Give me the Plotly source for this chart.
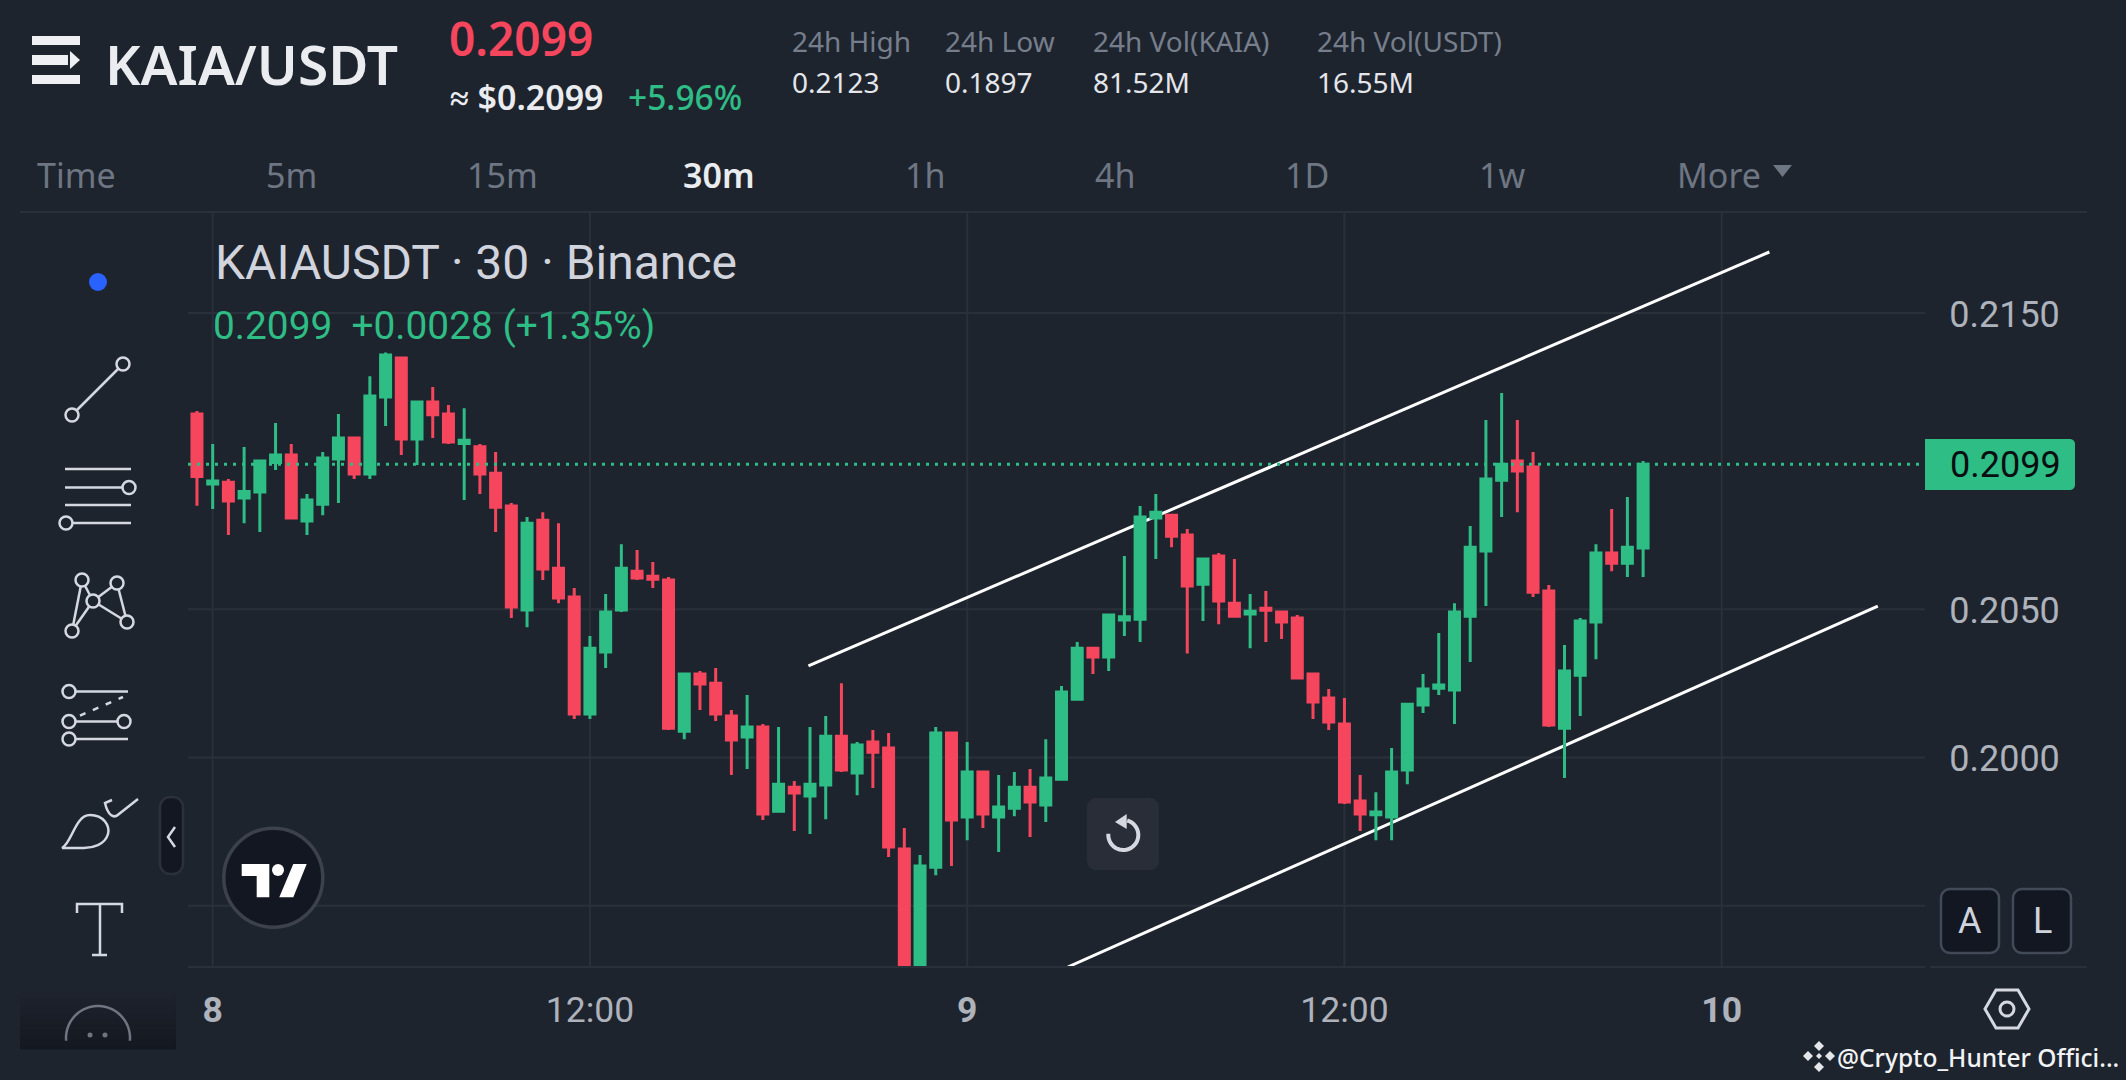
import numpy as np
import pandas as pd
import plotly.graph_objects as go

W, H = 2126, 1080
BG = "#1e242e"
GRID = "#2a303a"
GREEN = "#2ebd85"
RED = "#f6465d"
ICON = "#d5d8e0"
PANEL = "#131722"

times = pd.date_range("2024-10-07 23:30", periods=93, freq="30min")
opens = [
    .21159, .20923, .20929, .20876, .20896, .20996, .21021, .20798, .20855, .21007, .21078, .20957,
    .21217, .21348, .21075, .21200, .21159, .21060, .21049, .20959, .20849, .20498, .20801, .20639,
    .20542, .20147, .20356, .20498, .20629, .20612, .20599, .20089, .20282, .20251, .20140, .20069,
    .20103, .19819, .19900, .19870, .19907, .20072, .19948, .20052, .20032, .19691, .19200, .19630,
    .20083, .19799, .19951, .19799, .19829, .19900, .19840, .19927, .20197, .20369, .20339, .20464,
    .20467, .20808, .20818, .20751, .20585, .20680, .20521, .20484, .20504, .20491, .20471, .20282,
    .20201, .20113, .19853, .19807, .19799, .19958, .20177, .20234, .20228, .20477, .20697, .20936,
    .21001, .20980, .20562, .20099, .20278, .20457, .20690, .20656, .20707,
]
highs = [
    .21169, .21058, .20940, .21048, .21001, .21129, .21058, .20889, .21031, .21159, .21078, .21287,
    .21367, .21348, .21200, .21250, .21190, .21179, .21058, .21031, .20859, .20812, .20828, .20791,
    .20572, .20410, .20552, .20720, .20700, .20660, .20609, .20282, .20292, .20302, .20160, .20211,
    .20113, .20103, .19921, .20103, .20140, .20251, .20052, .20093, .20083, .19762, .19671, .20103,
    .20083, .20052, .19951, .19941, .19951, .19961, .20062, .20241, .20390, .20369, .20481, .20680,
    .20849, .20889, .20818, .20771, .20670, .20690, .20670, .20552, .20562, .20491, .20481, .20282,
    .20231, .20201, .19941, .19883, .20032, .20180, .20282, .20420, .20521, .20781, .21139, .21230,
    .21139, .21031, .20582, .20380, .20471, .20720, .20839, .20879, .21001,
]
lows = [
    .20850, .20839, .20751, .20791, .20761, .20970, .20808, .20751, .20818, .20859, .20940, .20940,
    .21119, .21021, .20987, .21078, .21058, .20869, .20889, .20761, .20471, .20440, .20599, .20521,
    .20130, .20130, .20302, .20491, .20599, .20572, .20093, .20062, .20160, .20123, .19941, .19961,
    .19789, .19819, .19752, .19742, .19792, .19951, .19873, .19897, .19664, .19180, .19150, .19603,
    .19634, .19721, .19762, .19681, .19802, .19732, .19782, .19927, .20197, .20282, .20292, .20410,
    .20390, .20670, .20710, .20351, .20461, .20450, .20477, .20369, .20390, .20400, .20268, .20130,
    .20093, .19843, .19752, .19721, .19721, .19910, .20150, .20211, .20113, .20322, .20511, .20812,
    .20828, .20542, .20103, .19931, .20140, .20332, .20629, .20609, .20609,
]
closes = [
    .20948, .20933, .20866, .20898, .21001, .21021, .20808, .20869, .21011, .21078, .20957, .21220,
    .21358, .21075, .21200, .21157, .21065, .21071, .20957, .20845, .20508, .20791, .20636, .20538,
    .20147, .20369, .20491, .20639, .20606, .20602, .20099, .20282, .20248, .20147, .20059, .20103,
    .19809, .19910, .19880, .19910, .20072, .19958, .20042, .20018, .19698, .19230, .19634, .20083,
    .19789, .19951, .19809, .19833, .19900, .19850, .19931, .20221, .20369, .20339, .20481, .20475,
    .20812, .20828, .20747, .20579, .20670, .20528, .20477, .20494, .20497, .20457, .20268, .20187,
    .20120, .19850, .19809, .19816, .19951, .20180, .20231, .20245, .20491, .20710, .20940, .20990,
    .20967, .20558, .20110, .20292, .20461, .20690, .20656, .20710, .20990,
]
last_price = 0.2099

price_ticks = [0.215, 0.205, 0.2, 0.195]
price_labels = ["0.2150", "0.2050", "0.2000", ""]
time_ticks = ["2024-10-08 00:00", "2024-10-08 12:00", "2024-10-09 00:00", "2024-10-09 12:00", "2024-10-10 00:00"]
time_labels = ["<b>8</b>", "12:00", "<b>9</b>", "12:00", "<b>10</b>"]

upper_x = ["2024-10-08 18:57", "2024-10-10 01:31"]
upper_y = [0.20309, 0.21706]
lower_x = ["2024-10-09 03:12", "2024-10-10 04:58"]
lower_y = [0.19293, 0.20511]

stat_names = ["24h High", "24h Low", "24h Vol(KAIA)", "24h Vol(USDT)"]
stat_values = ["0.2123", "0.1897", "81.52M", "16.55M"]
intervals = ["5m", "15m", "30m", "1h", "4h", "1D", "1w"]

shapes = []
notes = []


def X(px):
    return px / W


def Y(py):
    return 1 - py / H


def path_of(points, closed=False):
    s = "M " + " L ".join(f"{X(a):.5f},{Y(b):.5f}" for a, b in points)
    return s + " Z" if closed else s


def poly(points, fill=None, line=None, width=0, closed=True, dash=None):
    shapes.append(dict(type="path", xref="paper", yref="paper", path=path_of(points, closed),
                       fillcolor=fill if fill else "rgba(0,0,0,0)",
                       line=dict(color=line if line else "rgba(0,0,0,0)", width=width, dash=dash)))


def seg(x0, y0, x1, y1, color=ICON, width=2.5, dash=None, layer="above"):
    shapes.append(dict(type="line", xref="paper", yref="paper", x0=X(x0), y0=Y(y0), x1=X(x1), y1=Y(y1),
                       line=dict(color=color, width=width, dash=dash), layer=layer))


def ring(cx, cy, r, fill=BG, color=ICON, width=2.5):
    shapes.append(dict(type="circle", xref="paper", yref="paper", x0=X(cx - r), x1=X(cx + r),
                       y0=Y(cy - r), y1=Y(cy + r), fillcolor=fill,
                       line=dict(color=color, width=width)))


def box(x0, y0, x1, y1, fill, line=None, width=0, r=0):
    # rounded rectangle, corners as short polylines
    if r == 0:
        pts = [(x0, y0), (x1, y0), (x1, y1), (x0, y1)]
    else:
        pts = []
        for cx, cy, a in [(x1 - r, y0 + r, -90), (x1 - r, y1 - r, 0), (x0 + r, y1 - r, 90), (x0 + r, y0 + r, 180)]:
            for t in np.radians(np.linspace(a, a + 90, 6)):
                pts.append((cx + r * np.cos(t), cy + r * np.sin(t)))
    poly(pts, fill=fill, line=line, width=width)


def arc(cx, cy, r, a0, a1, n=40):
    t = np.radians(np.linspace(a0, a1, n))
    return [(cx + r * np.cos(v), cy + r * np.sin(v)) for v in t]


def txt(x, y, s, size, color, family="Noto Sans", anchor="left", weight=400):
    notes.append(dict(xref="paper", yref="paper", x=X(x), y=Y(y), text=s, showarrow=False,
                      xanchor=anchor, yanchor="middle", borderpad=0,
                      font=dict(family=family, size=size, color=color, weight=weight)))


# header
for top, bottom in [(36, 45), (75, 84)]:
    box(32, top, 80, bottom, "#eef0f3")
box(32, 55, 68, 65, "#eef0f3")
poly([(70, 51), (80, 60), (70, 69)], fill="#eef0f3")
txt(104, 64, "KAIA/USDT", 55, "#eaecef", weight=600)
txt(448, 38, "0.2099", 46, RED, weight=600)
txt(449, 97, "≈ $0.2099", 34, "#eaecef", weight=600)
txt(627, 97, "+5.96%", 33.5, GREEN, weight=500)
for px, name, val in zip([791, 944, 1092, 1316], stat_names, stat_values):
    txt(px, 41, name, 28, "#767e8c")
    txt(px, 82, val, 28, "#e4e6ea")

# interval row
txt(36, 175, "Time", 34, "#6e7683")
for px, name in zip([291, 502, 719, 925, 1115, 1307, 1502], intervals):
    on = name == "30m"
    txt(px, 175, name, 34, "#eaecef" if on else "#6e7683", anchor="center", weight=600 if on else 400)
txt(1676, 175, "More", 34, "#6e7683")
poly([(1773, 165), (1792, 165), (1782.5, 177)], fill="#6e7683")
seg(20, 212, 2087, 212, GRID, 2)
seg(188, 967, 1925, 967, GRID, 2)
seg(1930, 967, 2087, 967, GRID, 2)

# chart legend
txt(214, 262, "KAIAUSDT · 30 · Binance", 48, "#d1d4dc", "Roboto")
txt(212, 326, "0.2099  +0.0028 (+1.35%)", 38.8, GREEN, "Roboto")

# drawing toolbar
ring(98, 282, 9, fill="#2962ff", color="#2962ff", width=0)
seg(72, 415, 123, 364)
ring(72, 415, 6.5)
ring(123, 364, 6.5)
seg(65, 469, 131, 469)
seg(65, 487.5, 124, 487.5)
seg(65, 505, 131, 505)
seg(72, 523, 131, 523)
ring(129, 487.5, 6.5)
ring(66, 523, 6.5)
for a, b in [((72, 631), (82, 580)), ((82, 580), (93, 601)), ((72, 631), (93, 601)),
             ((93, 601), (117, 583)), ((117, 583), (127, 622)), ((93, 601), (127, 622))]:
    seg(a[0], a[1], b[0], b[1])
for a, b in [(82, 580), (117, 583), (93, 601), (72, 631), (127, 622)]:
    ring(a, b, 6.5)
seg(69, 691.5, 128, 691.5)
seg(69, 721.5, 124, 721.5)
seg(69, 739, 128, 739)
seg(80, 715.6, 123, 697, dash="6px,8px")
for a, b in [(69, 691.5), (69, 721.5), (124, 721.5), (69, 739)]:
    ring(a, b, 6.5)
shapes.append(dict(type="path", xref="paper", yref="paper", line=dict(color=ICON, width=2.5),
                   path=f"M {X(62)},{Y(848)} C {X(72)},{Y(843)} {X(75)},{Y(815)} {X(90)},{Y(815)} "
                        f"C {X(104)},{Y(815)} {X(110)},{Y(826)} {X(108)},{Y(834)} "
                        f"C {X(105)},{Y(845)} {X(92)},{Y(848)} {X(84)},{Y(848)} Z"))
shapes.append(dict(type="path", xref="paper", yref="paper", line=dict(color=ICON, width=2.5),
                   path=f"M {X(138)},{Y(799)} L {X(119)},{Y(814)} C {X(114)},{Y(819)} {X(108)},{Y(816)} "
                        f"{X(105)},{Y(803)} L {X(112)},{Y(800)}"))
poly([(77, 913), (77, 904), (122, 904), (122, 913)], line=ICON, width=2.5, closed=False)
seg(100, 904, 100, 955)
seg(92, 955, 107, 955)
box(160, 797, 183, 874, PANEL, line="#2b3039", width=2.5, r=10)
poly([(175, 827), (168, 837), (175, 847)], line=ICON, width=2.5, closed=False)
for i in range(12):
    k = i / 11
    c = [int(30 + (20 - 30) * k), int(36 + (24 - 36) * k), int(46 + (33 - 46) * k)]
    box(20, 987 + i * 5.2, 176, 987 + (i + 1) * 5.2, f"rgb({c[0]},{c[1]},{c[2]})")
poly(arc(98, 1038, 32, 175, 365), line="#6f7480", width=2.5, closed=False)
ring(90, 1035, 2.5, fill="#6f7480", color="#6f7480", width=0)
ring(105, 1035, 2.5, fill="#6f7480", color="#6f7480", width=0)

# TradingView badge
ring(273.3, 877.7, 49.5, fill=PANEL, color="#3c414c", width=3.5)
poly([(241.7, 864), (269.3, 864), (269.3, 897.3), (256.7, 897.3), (256.7, 876), (241.7, 876)], fill="#ffffff")
ring(278, 870, 6, fill="#ffffff", color="#ffffff", width=0)
poly([(293.3, 864), (306.7, 864), (293.3, 897.3), (279.3, 897.3)], fill="#ffffff")

# reset button
box(1087, 798, 1159, 870, "#292d38", r=9)
poly(arc(1123.3, 835, 15, -75, 185), line=ICON, width=4, closed=False)
poly([(1115, 822), (1126.7, 814), (1126.7, 829)], fill=ICON)

# price scale bits
box(1925, 439, 2075, 490, GREEN, r=5)
box(1925, 439, 1940, 490, GREEN)
txt(1949, 465, "0.2099", 36, "#0b0e11", "Roboto")
for px, name in [(1941, "A"), (2013, "L")]:
    box(px, 889, px + 58, 953, PANEL, line="#434a57", width=2.5, r=9)
    txt(px + 29, 921, name, 36, "#cfd3dc", "Roboto", anchor="center")
hex_pts = [(1985, 1009), (1996, 990), (2018, 990), (2029, 1009), (2018, 1028), (1996, 1028)]
poly(hex_pts, line=ICON, width=3)
ring(2007, 1009, 7, fill=BG, color=ICON, width=3)

# watermark
for a, b in [(1819, 1046), (1819, 1067), (1808, 1056), (1830, 1056)]:
    poly([(a - 5, b), (a, b - 5), (a + 5, b), (a, b + 5)], fill="#e4e6ea")
poly([(1816, 1056), (1819, 1053), (1822, 1056), (1819, 1059)], fill="#e4e6ea")
txt(1836, 1057, "@Crypto_Hunter Offici...", 24.5, "#f2f3f5", weight=500)

# grid first so the channel sits on top of it, candles stay above both
for t in time_ticks:
    shapes.append(dict(type="line", xref="x", yref="y domain", x0=t, x1=t, y0=0, y1=1,
                       line=dict(color=GRID, width=2), layer="below"))
for p in price_ticks:
    shapes.append(dict(type="line", xref="x domain", yref="y", x0=0, x1=1, y0=p, y1=p,
                       line=dict(color=GRID, width=2), layer="below"))
shapes.append(dict(type="line", xref="x", yref="y", x0=upper_x[0], x1=upper_x[1], y0=upper_y[0], y1=upper_y[1],
                   line=dict(color="#ffffff", width=3), layer="below"))
shapes.append(dict(type="line", xref="x", yref="y", x0=lower_x[0], x1=lower_x[1], y0=lower_y[0], y1=lower_y[1],
                   line=dict(color="#ffffff", width=3), layer="below"))
shapes.append(dict(type="line", xref="x domain", yref="y", x0=0, x1=1, y0=last_price, y1=last_price,
                   line=dict(color=GREEN, width=3, dash="3px,6px")))

fig = go.Figure()
fig.add_trace(go.Candlestick(
    x=times, open=opens, high=highs, low=lows, close=closes, whiskerwidth=0, hoverinfo="skip",
    increasing=dict(line=dict(color=GREEN, width=3), fillcolor=GREEN),
    decreasing=dict(line=dict(color=RED, width=3), fillcolor=RED),
    showlegend=False))

fig.update_layout(
    width=W, height=H, autosize=False, margin=dict(l=0, r=0, t=0, b=0),
    paper_bgcolor=BG, plot_bgcolor=BG, showlegend=False, boxgap=0.364, boxgroupgap=0,
    shapes=shapes, annotations=notes,
    xaxis=dict(domain=[X(188), X(1925)], type="date", range=["2024-10-07 23:12:54", "2024-10-10 06:28"],
               rangeslider=dict(visible=False), tickmode="array", tickvals=time_ticks, ticktext=time_labels,
               showgrid=False, zeroline=False, showline=False,
               ticks="outside", ticklen=11, tickcolor=BG,
               tickfont=dict(family="Roboto", size=35.5, color="#aeb2bb")),
    yaxis=dict(domain=[Y(967), Y(212)], side="right", range=[0.19293, 0.21841], tickmode="array",
               tickvals=price_ticks, ticktext=price_labels, showgrid=False,
               zeroline=False, showline=False, ticks="outside", ticklen=16, tickcolor=BG, ticklabelshift=1,
               tickfont=dict(family="Roboto", size=36, color="#aeb2bb")),
)

fig.write_html("out.html", config=dict(displayModeBar=False),
               post_script="document.body.style.margin='0';document.body.style.background='" + BG + "';")
